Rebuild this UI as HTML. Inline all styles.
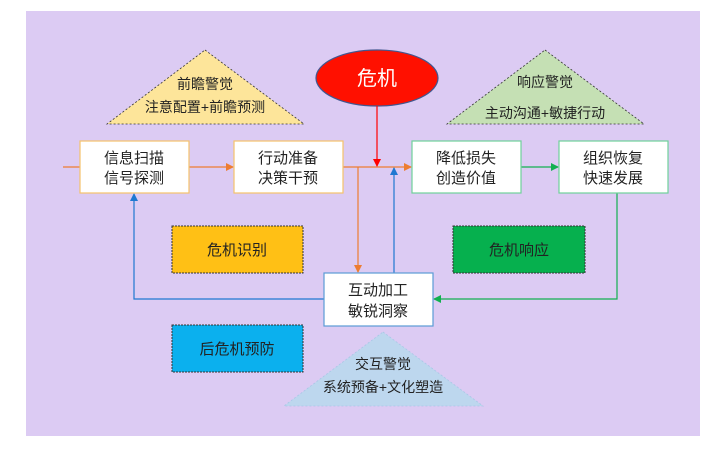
<!DOCTYPE html>
<html><head><meta charset="utf-8"><style>
html,body{margin:0;padding:0;background:#fff;}
svg{display:block;font-family:"Liberation Sans","Noto Sans CJK SC",sans-serif;}
</style></head><body>
<svg width="720" height="453" viewBox="0 0 720 453" xmlns="http://www.w3.org/2000/svg">
<defs>
<marker id="ao" markerWidth="8" markerHeight="8" refX="7" refY="4" orient="auto" markerUnits="userSpaceOnUse"><path d="M0,0 L8,4 L0,8z" fill="#ed7d31"/></marker>
<marker id="ar" markerWidth="8" markerHeight="8" refX="7" refY="4" orient="auto" markerUnits="userSpaceOnUse"><path d="M0,0 L8,4 L0,8z" fill="#ff0000"/></marker>
<marker id="ab" markerWidth="8" markerHeight="8" refX="7" refY="4" orient="auto" markerUnits="userSpaceOnUse"><path d="M0,0 L8,4 L0,8z" fill="#1f78d1"/></marker>
<marker id="ag" markerWidth="8" markerHeight="8" refX="7" refY="4" orient="auto" markerUnits="userSpaceOnUse"><path d="M0,0 L8,4 L0,8z" fill="#12b050"/></marker>
</defs>
<rect x="26" y="11" width="674" height="425" fill="#dccbf3"/>

<polygon points="205,50 304,124 107,124" fill="#fde59a" stroke="#333" stroke-width="0.8" stroke-dasharray="2,2"/>
<text x="205" y="89" font-size="14" text-anchor="middle" fill="#222">前瞻警觉</text>
<text x="205" y="112" font-size="14" text-anchor="middle" fill="#222">注意配置+前瞻预测</text>
<polygon points="545,50 644,124 447,124" fill="#c5e0b4" stroke="#333" stroke-width="0.8" stroke-dasharray="2,2"/>
<text x="545" y="87" font-size="14" text-anchor="middle" fill="#222">响应警觉</text>
<text x="545" y="118" font-size="14" text-anchor="middle" fill="#222">主动沟通+敏捷行动</text>
<polygon points="383,332 483,406 284,406" fill="#bdd7ee" stroke="#a9c6e6" stroke-width="0.8" stroke-dasharray="2,2"/>
<text x="383" y="369" font-size="14" text-anchor="middle" fill="#222">交互警觉</text>
<text x="383" y="392" font-size="14" text-anchor="middle" fill="#222">系统预备+文化塑造</text>

<ellipse cx="377" cy="78" rx="61" ry="28" fill="#ff1000" stroke="#41568f" stroke-width="1.2"/>
<text x="377" y="85" font-size="20" text-anchor="middle" fill="#fff">危机</text>

<line x1="63" y1="167" x2="80" y2="167" stroke="#ed7d31" stroke-width="1.2"/>
<line x1="189" y1="167" x2="233" y2="167" stroke="#ed7d31" stroke-width="1.2" marker-end="url(#ao)"/>
<line x1="343" y1="167" x2="411" y2="167" stroke="#ed7d31" stroke-width="1.2" marker-end="url(#ao)"/>
<line x1="377" y1="106" x2="377" y2="166" stroke="#ff0000" stroke-width="1.2" marker-end="url(#ar)"/>
<line x1="358" y1="167" x2="358" y2="272" stroke="#ed7d31" stroke-width="1.2" marker-end="url(#ao)"/>
<polyline points="324,299 134,299 134,194" fill="none" stroke="#1f78d1" stroke-width="1.2" marker-end="url(#ab)"/>
<line x1="394" y1="273" x2="394" y2="168" stroke="#1f78d1" stroke-width="1.2" marker-end="url(#ab)"/>
<line x1="521" y1="167" x2="558" y2="167" stroke="#12b050" stroke-width="1.2" marker-end="url(#ag)"/>
<polyline points="617,193 617,299 434,299" fill="none" stroke="#12b050" stroke-width="1.2" marker-end="url(#ag)"/>

<g font-size="15" text-anchor="middle" fill="#222">
<rect x="80" y="141" width="109" height="52" fill="#fff" stroke="#f5c26b" stroke-width="1.2"/>
<text x="134" y="163">信息扫描</text><text x="134" y="183">信号探测</text>
<rect x="234" y="141" width="109" height="52" fill="#fff" stroke="#f5c26b" stroke-width="1.2"/>
<text x="288" y="163">行动准备</text><text x="288" y="183">决策干预</text>
<rect x="412" y="141" width="109" height="52" fill="#fff" stroke="#6fd19a" stroke-width="1.2"/>
<text x="466" y="163">降低损失</text><text x="466" y="183">创造价值</text>
<rect x="559" y="141" width="109" height="52" fill="#fff" stroke="#6fd19a" stroke-width="1.2"/>
<text x="613" y="163">组织恢复</text><text x="613" y="183">快速发展</text>
<rect x="324" y="273" width="109" height="53" fill="#fff" stroke="#5b9bd5" stroke-width="1.2"/>
<text x="378" y="295">互动加工</text><text x="378" y="316">敏锐洞察</text>
</g>

<g font-size="15" text-anchor="middle" fill="#222">
<rect x="172" y="226" width="131" height="47" fill="#ffc015" stroke="#333" stroke-width="1" stroke-dasharray="2,1"/>
<text x="237" y="255">危机识别</text>
<rect x="453" y="226" width="132" height="47" fill="#06b04e" stroke="#333" stroke-width="1" stroke-dasharray="2,1"/>
<text x="519" y="255">危机响应</text>
<rect x="172" y="325" width="131" height="47" fill="#0bb0ee" stroke="#333" stroke-width="1" stroke-dasharray="2,1"/>
<text x="237" y="354">后危机预防</text>
</g>
</svg>
</body></html>
